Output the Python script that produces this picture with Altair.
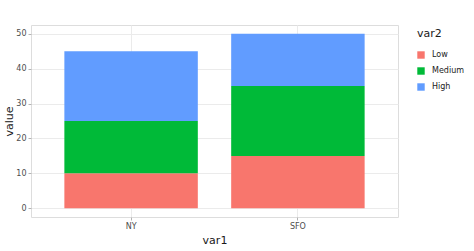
import altair as alt
import pandas as pd

cities = ["NY", "NY", "NY", "SFO", "SFO", "SFO"]
levels = ["Low", "Medium", "High", "Low", "Medium", "High"]
values = [10, 15, 20, 15, 20, 15]
level_order = ["Low", "Medium", "High"]
level_colors = ["#F8766D", "#00BA38", "#619CFF"]

df = pd.DataFrame({"var1": cities, "var2": levels, "value": values})
df["ord"] = df["var2"].map({k: i for i, k in enumerate(level_order)})

FONT = "DejaVu Sans"

chart = alt.Chart(df).mark_bar(strokeWidth=0).encode(
    x=alt.X("var1:N", title="var1",
            scale=alt.Scale(paddingInner=0.2, paddingOuter=0.2),
            axis=alt.Axis(labelAngle=0, grid=True, bandPosition=0.5,
                          gridColor="#EBEBEB", tickColor="#B3B3B3", tickSize=3,
                          domain=False, labelColor="#4D4D4D", labelFontSize=8,
                          labelPadding=2, titleFontSize=11, titleFontWeight="normal",
                          titleColor="#1A1A1A", titlePadding=4, labelFont=FONT, titleFont=FONT)),
    y=alt.Y("value:Q", title="value", stack="zero",
            scale=alt.Scale(domain=[-2.5, 52.5], nice=False, zero=False),
            axis=alt.Axis(values=[0, 10, 20, 30, 40, 50], grid=True,
                          gridColor="#EBEBEB", tickColor="#B3B3B3", tickSize=3,
                          domain=False, labelColor="#4D4D4D", labelFontSize=8,
                          labelPadding=2, titleFontSize=11, titleFontWeight="normal",
                          titleColor="#1A1A1A", titlePadding=1, labelFont=FONT, titleFont=FONT)),
    color=alt.Color("var2:N", title="var2",
                    scale=alt.Scale(domain=level_order, range=level_colors),
                    legend=alt.Legend(orient="none", legendX=386, legendY=3,
                                      symbolType="square", symbolSize=55,
                                      symbolStrokeWidth=0, labelFontSize=8,
                                      labelColor="#1A1A1A", titleFontSize=11,
                                      titleFontWeight="normal", titleColor="#1A1A1A",
                                      rowPadding=8, titlePadding=12, labelOffset=7,
                                      labelFont=FONT, titleFont=FONT)),
    order=alt.Order("ord:Q", sort="ascending"),
).properties(
    width=367, height=192,
    autosize=alt.AutoSizeParams(type="none"),
    padding={"left": 31, "top": 25, "right": 76, "bottom": 34},
).configure_view(
    stroke="#B3B3B3", strokeWidth=1
).configure(background="white")

chart.save("out.html", embed_options={"renderer": "svg", "actions": False})
